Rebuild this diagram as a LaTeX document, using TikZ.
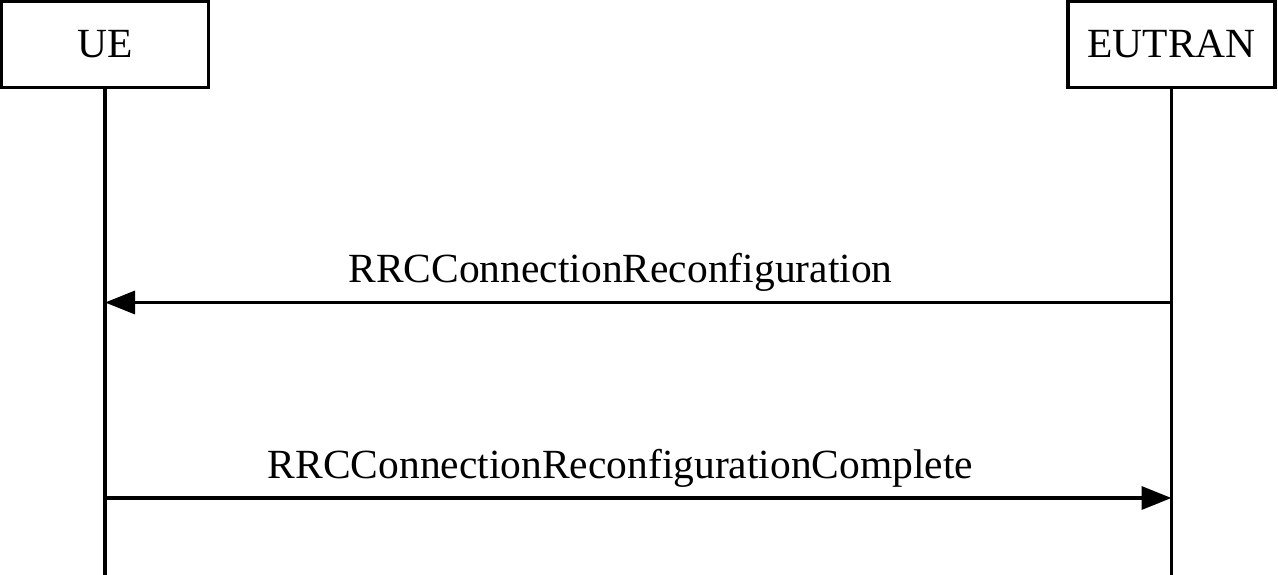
\documentclass[tikz,border=0pt]{standalone}
\usepackage{fontspec}
\setmainfont{Liberation Serif}
\usetikzlibrary{arrows.meta}
\begin{document}
\begin{tikzpicture}[x=1pt,y=-1pt,
  entity/.style={draw,line width=3.3pt,minimum width=207pt,minimum height=86pt,inner sep=0pt,font=\fontsize{41.5}{44}\selectfont},
  lifeline/.style={line width=3.3pt},
  msg/.style={line width=3.3pt,-{Triangle[length=30pt,width=23pt]}},
  msglabel/.style={font=\fontsize{41.5}{44}\selectfont,anchor=base}]
\useasboundingbox (0,0) rectangle (1278,575);
\node[entity] (ue) at (105,44.5) {UE};
\node[entity] (eutran) at (1171.5,44.5) {EUTRAN};
\coordinate (ueend) at (105,575);
\coordinate (euend) at (1171.5,575);
\draw[lifeline] (ue.south) -- (ueend);
\draw[lifeline] (eutran.south) -- (euend);
\coordinate (m1s) at (1171.5,302.5);
\coordinate (m1e) at (105,302.5);
\coordinate (m2s) at (105,498);
\coordinate (m2e) at (1171.5,498);
\draw[msg] (m1s) -- (m1e);
\draw[msg] (m2s) -- (m2e);
\node[msglabel] (l1) at (620.5,282) {RRCConnectionReconfiguration};
\node[msglabel] (l2) at (620.5,478) {RRCConnectionReconfigurationComplete};
\end{tikzpicture}
\end{document}
